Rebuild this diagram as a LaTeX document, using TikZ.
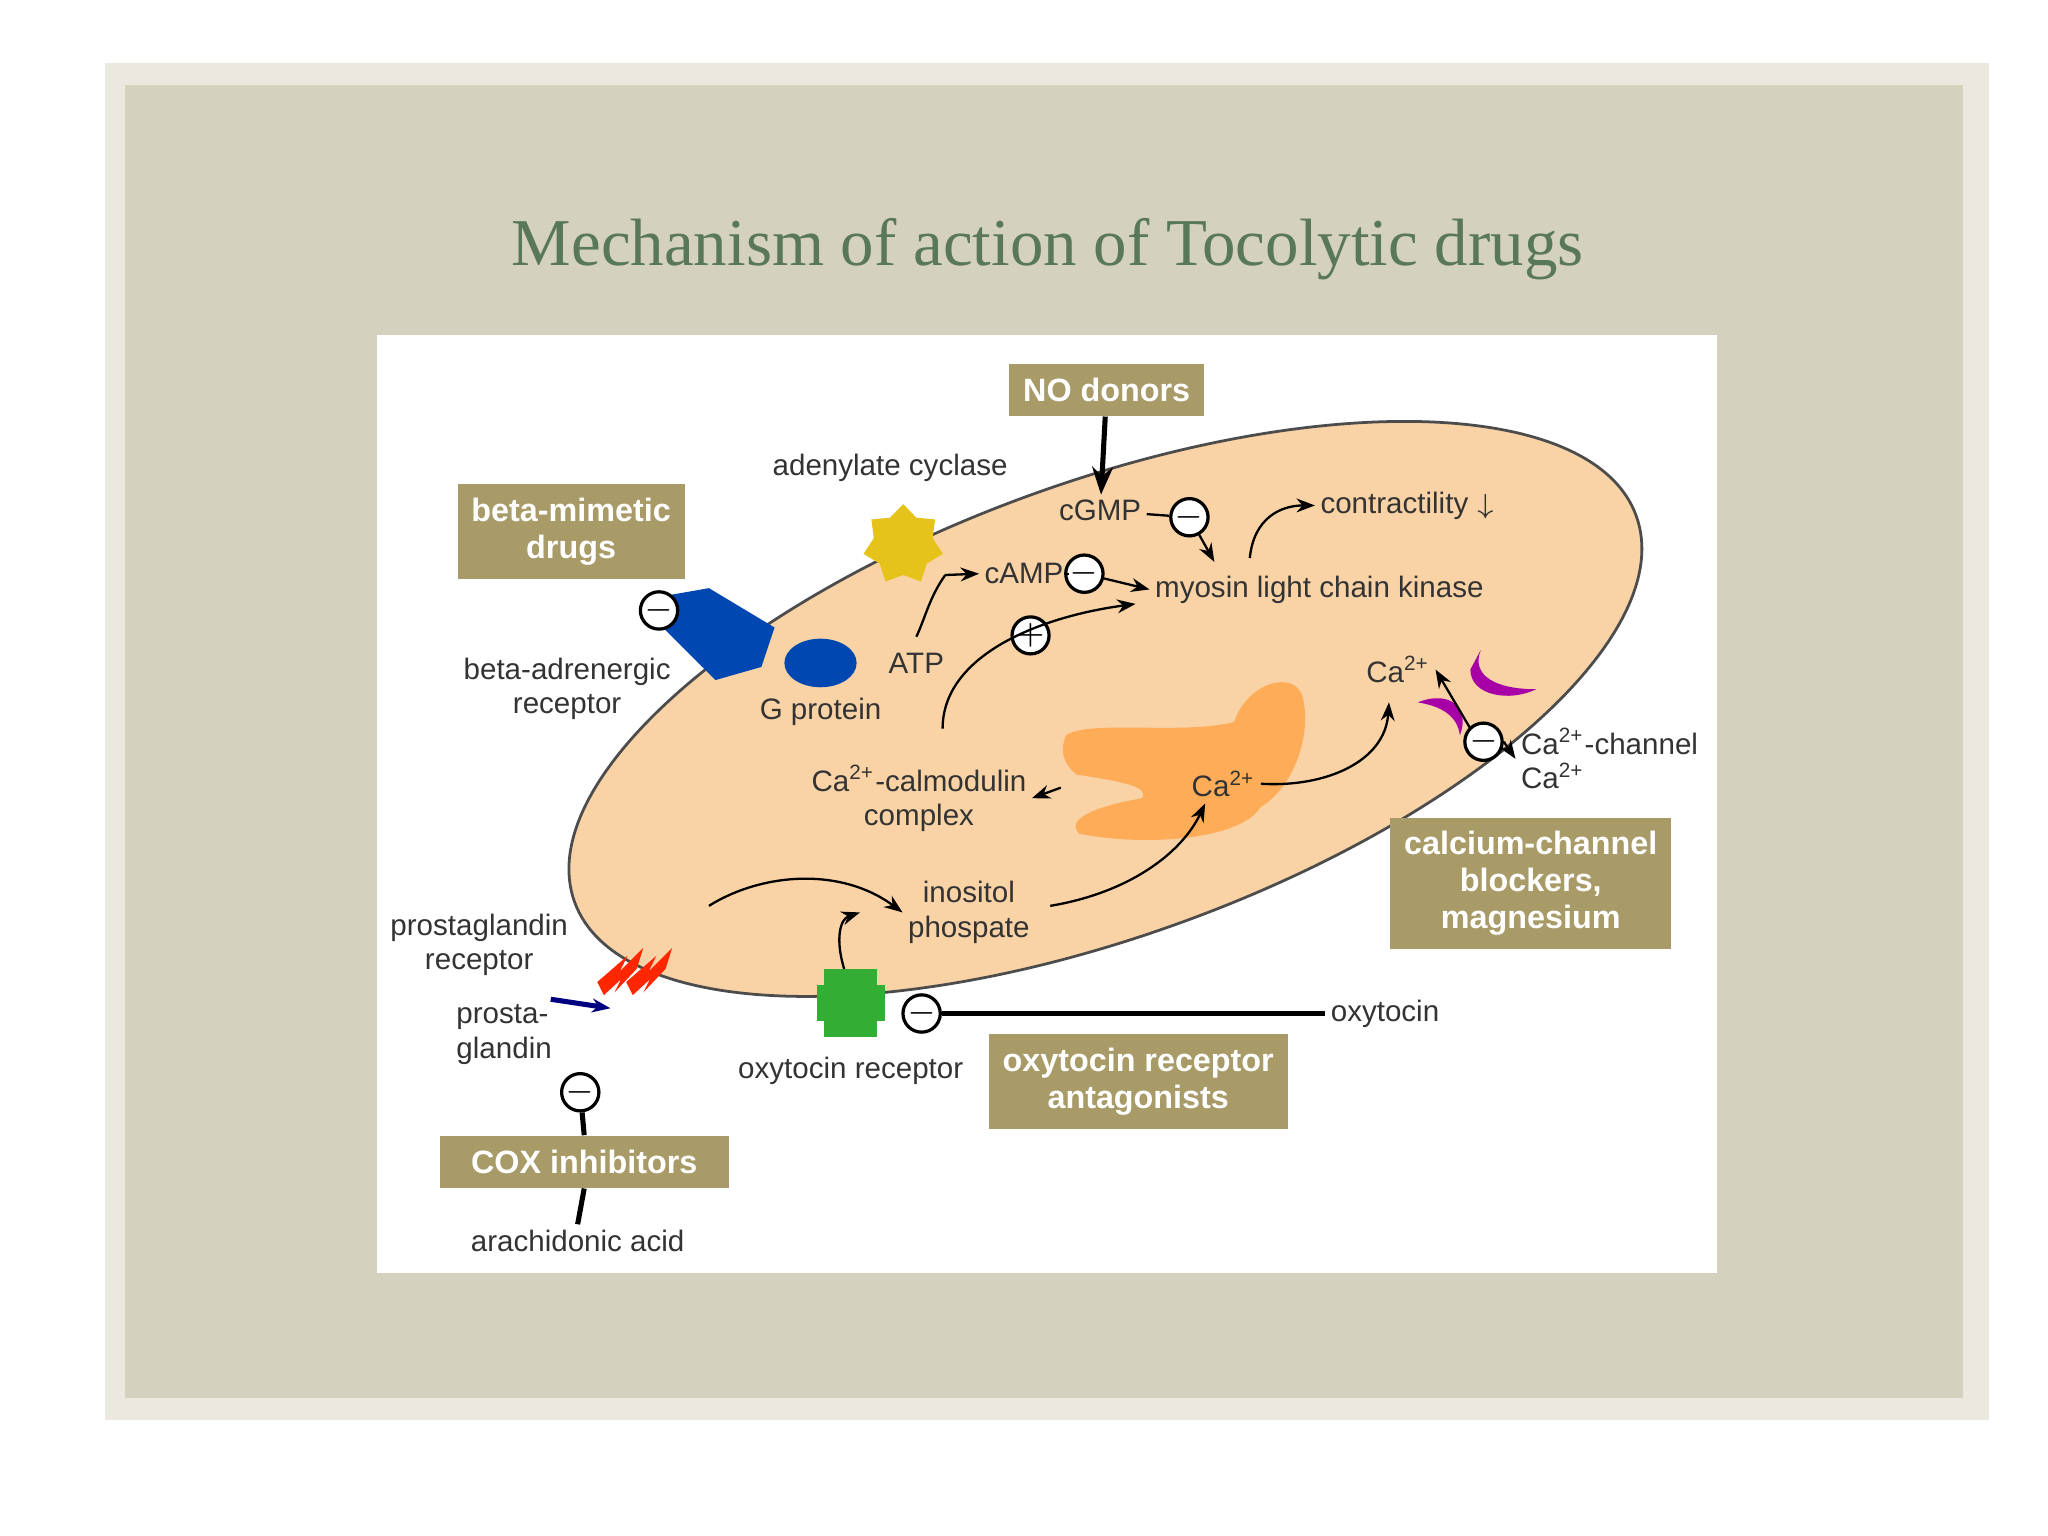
\documentclass[tikz,border=0pt]{standalone}
\usepackage{fontspec}
\setmainfont{Liberation Sans}
\newfontfamily\titlefont{Liberation Serif}
\usetikzlibrary{shapes.geometric,arrows.meta}
\definecolor{panel}{HTML}{D5D1BF}
\definecolor{olive}{HTML}{A89B68}
\definecolor{cell}{HTML}{F9D3A6}
\definecolor{txt}{HTML}{333333}
\newcommand{\ca}{Ca\textsuperscript{2+}}
\tikzset{
 box/.style={fill=olive,text=white,font=\bfseries\fontsize{7}{8}\selectfont,align=center,inner sep=3pt},
 lab/.style={text=txt,font=\fontsize{6.4}{7.4}\selectfont,align=center,inner sep=1pt},
 neg/.style={circle,draw=black,fill=white,line width=0.7pt,minimum size=0.22cm,inner sep=0pt,font=\bfseries\fontsize{7}{7}\selectfont},
 ar/.style={-{Stealth[length=4pt]},line width=0.5pt},
 thick/.style={line width=1.1pt}
}
\begin{document}
\begin{tikzpicture}[x=0.01cm,y=-0.01cm]
\useasboundingbox (0,0) rectangle (1560,1170);
\fill[white] (0,0) rectangle (1560,1170);
\fill[panel!50] (80,48) rectangle (1515,1082);
\fill[panel] (95,65) rectangle (1495,1065);
\node[font=\titlefont\fontsize{14.5}{16}\selectfont,text=black!60!green!30!gray] (title) at (798,190) {Mechanism of action of Tocolytic drugs};
\fill[white] (287,255) rectangle (1308,970);
% cell
\node[ellipse,draw=black!70,fill=cell,line width=0.6pt,minimum width=8.6cm,minimum height=3.45cm,rotate=20] (cell) at (842,540) {};
% receptors / shapes
\fill[blue!60!cyan!70!black] (500,455) -- (540,448) -- (590,478) -- (580,508) -- (545,518) -- (505,478) -- cycle;
\node[ellipse,fill=blue!60!cyan!70!black,minimum width=0.55cm,minimum height=0.37cm,inner sep=0] (gp) at (625,505) {};
\node[star,star points=7,star point ratio=1.35,fill=yellow!70!orange!90!black,minimum size=0.62cm,inner sep=0] (ac) at (688,415) {};
\fill[green!60!black!80] (628,738) rectangle (668,790);
\fill[green!60!black!80] (622,750) rectangle (674,778);
\foreach \dx in {0,22}{
\fill[red!70!orange] (455+\dx,748) -- (478+\dx,728) -- (472+\dx,740) -- (490+\dx,722) -- (485+\dx,738) -- (468+\dx,756) -- (473+\dx,746) -- (460+\dx,758) -- cycle;}
% SR blob
\fill[orange!65] (812,560) .. controls (830,548) and (900,560) .. (940,550) .. controls (950,520) and (985,510) .. (992,530) .. controls (1000,560) and (985,600) .. (960,615) .. controls (945,640) and (870,645) .. (822,635) .. controls (812,625) and (830,615) .. (870,608) .. controls (875,600) and (860,596) .. (820,590) .. controls (808,580) and (808,570) .. (812,560) -- cycle;
% calcium channel crescents
\fill[violet!70!magenta] (1080,535) .. controls (1105,525) and (1120,540) .. (1112,560) .. controls (1110,545) and (1098,538) .. (1080,535) -- cycle;
\fill[violet!70!magenta] (1128,495) .. controls (1120,515) and (1140,525) .. (1170,525) .. controls (1150,535) and (1120,530) .. (1120,510) -- cycle;
% boxes
\node[box] (no) at (843,297) {NO donors};
\node[box] (beta) at (435,405) {beta-mimetic\\drugs};
\node[box] (ccb) at (1166,673) {calcium-channel\\blockers,\\magnesium};
\node[box] (ora) at (867,824) {oxytocin receptor\\antagonists};
\node[box,minimum width=2.2cm] (cox) at (445,885) {COX inhibitors};
% labels
\node[lab] (adc) at (678,356) {adenylate cyclase};
\node[lab] (cgmp) at (838,389) {cGMP};
\node[lab] (camp) at (780,437) {cAMP};
\node[lab] (mlck) at (1005,449) {myosin light chain kinase};
\node[lab] (contr) at (1072,385) {contractility $\downarrow$};
\node[lab] (atp) at (698,505) {ATP};
\node[lab] (gpl) at (625,542) {G protein};
\node[lab] (bar) at (432,525) {beta-adrenergic\\receptor};
\node[lab] (cam) at (700,608) {\ca-calmodulin\\complex};
\node[lab] (casr) at (932,597) {\ca};
\node[lab] (cain) at (1065,510) {\ca};
\node[lab,align=left] (cach) at (1226,578) {\ca-channel\\\ca};
\node[lab] (ip) at (738,695) {inositol\\phospate};
\node[lab] (pgr) at (365,720) {prostaglandin\\receptor};
\node[lab,align=left] (pg) at (384,788) {prosta-\\glandin};
\node[lab] (oxr) at (648,816) {oxytocin receptor};
\node[lab] (oxy) at (1055,772) {oxytocin};
\node[lab] (ara) at (440,945) {arachidonic acid};
% neg/pos circles
\node[neg] (n1) at (906,394) {$-$};
\node[neg] (n2) at (826,437) {$-$};
\node[neg] (nb) at (502,465) {$-$};
\node[neg] (pp) at (785,484) {$+$};
\node[neg] (nc) at (1130,565) {$-$};
\node[neg] (no2) at (702,772) {$-$};
\node[neg] (ncox) at (442,832) {$-$};
% connectors
\draw[thick,-{Stealth[length=6pt]}] (no) -- (cgmp);
\draw[line width=0.5pt] (cgmp) -- (n1);
\draw[ar] (n1) -- (925,428);
\draw[line width=0.5pt] (camp) -- (n2);
\draw[ar] (n2) -- (mlck.west);
\draw[ar] (720,438) -- (camp.west);
\draw[line width=0.5pt] (atp.north) ++(0,-8) .. controls (705,470) and (708,455) .. (720,438);
\draw[ar] (718,555) .. controls (718,500) and (790,470) .. (865,460);
\draw[ar] (952,425) .. controls (955,395) and (975,385) .. (contr.west);
\draw[ar] (casr.east) .. controls (1010,600) and (1055,580) .. (1058,535);
\draw[ar] (1120,555) -- (cain.east);
\draw[ar] (nc.east) -- (cach.west);
\draw[ar] (808,600) -- (cam.east);
\draw[ar] (800,690) .. controls (860,680) and (900,650) .. (918,612);
\draw[ar] (540,690) .. controls (580,665) and (640,660) .. (ip.west);
\draw[ar] (643,738) .. controls (636,715) and (640,700) .. (655,695);
\draw[thick] (no2) -- (oxy.west);
\draw[thick] (ncox) -- (cox.north);
\draw[thick] (cox.south) -- (ara.north);
\draw[ar,thick,blue!50!black] (pg.north east) ++(-5,0) -- (465,768);
\end{tikzpicture}
\end{document}
